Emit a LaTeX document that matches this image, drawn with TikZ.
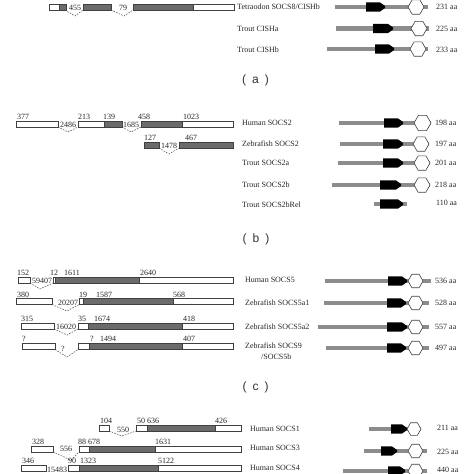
\documentclass[tikz,border=0pt]{standalone}
\usepackage{fontspec}
\setmainfont{Liberation Serif}
\newfontfamily\labsans{Liberation Sans}
\newcounter{lbn}
\tikzset{
  gbox/.style={draw=black!75,line width=0.5pt},
  wfill/.style={fill=white},
  gfill/.style={fill=black!58},
  intron/.style={draw=black!70,line width=0.5pt,dash pattern=on 1.6pt off 1.2pt},
  pbar/.style={fill=black!45},
  hexc/.style={draw=black!75,fill=white,line width=0.6pt},
  txt/.style={inner sep=0pt,font=\fontsize{8}{8.5}\selectfont,text=black!85},
  nm/.style={txt,anchor=west},
  num/.style={txt,anchor=base west},
  intr/.style={txt,anchor=center},
  aa/.style={txt,anchor=west},
  sec/.style={inner sep=0pt,font=\labsans\fontsize{12}{12}\selectfont,text=black!80}
}
% gene segment: x0, x1, y, style
\newcommand{\gseg}[4]{\draw[gbox,#4] (#1,#3-3) rectangle (#2,#3+3);}
% label helper
\newcommand{\lab}[4]{\stepcounter{lbn}\node[#1] (lab\arabic{lbn}) at (#2,#3) {#4};}
% intron V: xleft, xapex, xright, ybottom, yapex
\newcommand{\vint}[5]{\stepcounter{lbn}%
  \coordinate (iA\arabic{lbn}) at (#1,#4);
  \coordinate (iB\arabic{lbn}) at (#2,#5);
  \coordinate (iC\arabic{lbn}) at (#3,#4);
  \draw[intron] (iA\arabic{lbn}) -- (iB\arabic{lbn}) -- (iC\arabic{lbn});}
% protein: y, barstart, blackstart, blackend, hexstart, hexend, stubend
\newcommand{\prot}[7]{%
  \fill[pbar] (#2,#1-2.2) rectangle (#7,#1+2.2);
  \fill[black] (#3,#1-4.6) -- ({#4-5},#1-4.6) -- (#4,#1-1) -- (#4,#1+1) -- ({#4-5},#1+4.6) -- (#3,#1+4.6) -- cycle;
  \draw[hexc] (#5,#1) -- ({#5+0.26*(#6-#5)},{#1-0.45*(#6-#5)}) -- ({#6-0.26*(#6-#5)},{#1-0.45*(#6-#5)}) -- (#6,#1) -- ({#6-0.26*(#6-#5)},{#1+0.45*(#6-#5)}) -- ({#5+0.26*(#6-#5)},{#1+0.45*(#6-#5)}) -- cycle;}
\newcommand{\protnohex}[5]{%
  \fill[pbar] (#2,#1-2.2) rectangle (#5,#1+2.2);
  \fill[black] (#3,#1-4.6) -- ({#4-5},#1-4.6) -- (#4,#1-1) -- (#4,#1+1) -- ({#4-5},#1+4.6) -- (#3,#1+4.6) -- cycle;}
\begin{document}
\begin{tikzpicture}[x=1pt,y=-1pt]
\useasboundingbox[fill=white] (0,0) rectangle (474,474);
% ================= (a) =================
\gseg{49}{59}{7}{wfill}\gseg{59}{66}{7}{gfill}
\gseg{83}{111}{7}{gfill}
\gseg{133}{193}{7}{gfill}\gseg{193}{234}{7}{wfill}
\vint{65}{75}{83}{10}{16}
\vint{111}{124}{133}{10}{16}
\lab{intr}{75}{7.5}{455}
\lab{intr}{123}{7.5}{79}
\lab{nm}{237}{7}{Tetraodon SOCS8/CISHb}
\lab{nm}{237}{29}{Trout CISHa}
\lab{nm}{237}{50}{Trout CISHb}
\prot{7}{335}{366}{385}{408}{424}{428}
\prot{28.5}{336}{373}{393}{411}{427}{429}
\prot{49}{327}{375}{394}{410}{426}{428}
\lab{aa}{436}{7}{231 aa}
\lab{aa}{436}{29}{225 aa}
\lab{aa}{436}{50}{233 aa}
\lab{sec}{255.5}{80.5}{(\hspace{0.5em}a\hspace{0.5em})}
% ================= (b) =================
\gseg{16}{58}{124}{wfill}
\gseg{78}{104}{124}{wfill}\gseg{104}{122}{124}{gfill}
\gseg{141}{182}{124}{gfill}\gseg{182}{233}{124}{wfill}
\vint{58}{68}{78}{127}{132}
\vint{122}{131}{141}{127}{132}
\lab{intr}{68}{124.5}{2486}
\lab{intr}{131}{124.5}{1685}
\lab{num}{17}{119.5}{377}
\lab{num}{78}{119.5}{213}
\lab{num}{103}{119.5}{139}
\lab{num}{138}{119.5}{458}
\lab{num}{183}{119.5}{1023}
\gseg{144}{159}{145}{gfill}
\gseg{179}{233}{145}{gfill}
\vint{159}{169}{179}{148}{154}
\lab{intr}{169}{145.5}{1478}
\lab{num}{144}{140.5}{127}
\lab{num}{185}{140.5}{467}
\lab{nm}{242}{123}{Human SOCS2}
\lab{nm}{242}{144}{Zebrafish SOCS2}
\lab{nm}{242}{163}{Trout SOCS2a}
\lab{nm}{242}{185}{Trout SOCS2b}
\lab{nm}{242}{205}{Trout SOCS2bRel}
\prot{123}{339}{384}{403}{414}{431}{431}
\prot{144}{340}{383}{403}{413}{429}{429}
\prot{163}{338}{383}{403}{414}{430}{430}
\prot{185}{332}{380}{401}{414}{430}{430}
\protnohex{204}{374}{380}{403}{407}
\lab{aa}{435}{123}{198 aa}
\lab{aa}{435}{144}{197 aa}
\lab{aa}{435}{163}{201 aa}
\lab{aa}{435}{185}{218 aa}
\lab{aa}{436}{203}{110 aa}
\lab{sec}{256}{239}{(\hspace{0.5em}b\hspace{0.5em})}
% ================= (c) =================
\gseg{18}{30}{280}{wfill}
\gseg{53}{55}{280}{wfill}\gseg{55}{139}{280}{gfill}\gseg{139}{233}{280}{wfill}
\vint{30}{40}{53}{283}{289}
\lab{intr}{42}{281}{59407}
\lab{num}{17}{275.5}{152}
\lab{num}{50}{275.5}{12}
\lab{num}{64}{275.5}{1611}
\lab{num}{140}{275.5}{2640}
\gseg{16}{52}{301.5}{wfill}
\gseg{79}{83}{301.5}{wfill}\gseg{83}{173}{301.5}{gfill}\gseg{173}{233}{301.5}{wfill}
\vint{52}{67}{79}{304.5}{311}
\lab{intr}{68}{302.5}{20207}
\lab{num}{17}{297}{380}
\lab{num}{79}{297}{19}
\lab{num}{96}{297}{1587}
\lab{num}{173}{297}{568}
\gseg{21}{54}{326}{wfill}
\gseg{78}{88}{326}{wfill}\gseg{88}{182}{326}{gfill}\gseg{182}{233}{326}{wfill}
\vint{54}{67}{78}{329}{335}
\lab{intr}{66}{326.5}{16020}
\lab{num}{21}{321.5}{315}
\lab{num}{78}{321.5}{35}
\lab{num}{94}{321.5}{1674}
\lab{num}{183}{321.5}{418}
\gseg{22}{55}{346.5}{wfill}
\gseg{78}{89}{346.5}{wfill}\gseg{89}{182}{346.5}{gfill}\gseg{182}{233}{346.5}{wfill}
\vint{55}{67}{78}{349.5}{357}
\lab{intr}{63}{349}{?}
\lab{num}{22}{341.5}{?}
\lab{num}{90}{341.5}{?}
\lab{num}{100}{341.5}{1494}
\lab{num}{183}{341.5}{407}
\lab{nm}{245}{280}{Human SOCS5}
\lab{nm}{245}{303}{Zebrafish SOCS5a1}
\lab{nm}{245}{327}{Zebrafish SOCS5a2}
\lab{nm}{245}{346}{Zebrafish SOCS9}
\lab{nm}{261}{357}{/SOCS5b}
\prot{281}{325}{388}{407}{408}{423}{431}
\prot{303}{324}{387}{406}{408}{423}{429}
\prot{327}{318}{387}{407}{408}{423}{429}
\prot{348}{326}{387}{406}{408}{423}{429}
\lab{aa}{435}{281}{536 aa}
\lab{aa}{435}{303}{528 aa}
\lab{aa}{435}{327}{557 aa}
\lab{aa}{435}{348}{497 aa}
\lab{sec}{255.5}{387}{(\hspace{0.5em}c\hspace{0.5em})}
% ================= (d) =================
\gseg{99}{109}{428}{wfill}
\gseg{136}{147}{428}{wfill}\gseg{147}{215}{428}{gfill}\gseg{215}{241}{428}{wfill}
\vint{109}{122}{136}{431}{436}
\lab{intr}{123}{430}{550}
\lab{num}{100}{423.5}{104}
\lab{num}{137}{423.5}{50}
\lab{num}{147}{423.5}{636}
\lab{num}{215}{423.5}{426}
\gseg{31}{53}{449}{wfill}
\gseg{79}{89}{449}{wfill}\gseg{89}{155}{449}{gfill}\gseg{155}{241}{449}{wfill}
\vint{53}{71}{79}{452}{460}
\lab{intr}{66}{449}{556}
\lab{num}{32}{444.5}{328}
\lab{num}{78}{444.5}{88}
\lab{num}{88}{444.5}{678}
\lab{num}{155}{444.5}{1631}
\gseg{21}{46}{468}{wfill}
\gseg{68}{79}{468}{wfill}\gseg{79}{158}{468}{gfill}\gseg{158}{241}{468}{wfill}
\lab{intr}{57}{470}{15483}
\lab{num}{22}{463}{346}
\lab{num}{68}{463}{90}
\lab{num}{80}{463}{1323}
\lab{num}{158}{463}{5122}
\lab{nm}{250}{429}{Human SOCS1}
\lab{nm}{250}{448}{Human SOCS3}
\lab{nm}{250}{468}{Human SOCS4}
\prot{429}{369}{391}{407}{407}{421}{421}
\prot{451}{364}{381}{397}{408}{423}{427}
\prot{471}{343}{388}{405}{408}{423}{427}
\lab{aa}{437}{428}{211 aa}
\lab{aa}{437}{452}{225 aa}
\lab{aa}{437}{470}{440 aa}
\end{tikzpicture}
\end{document}
